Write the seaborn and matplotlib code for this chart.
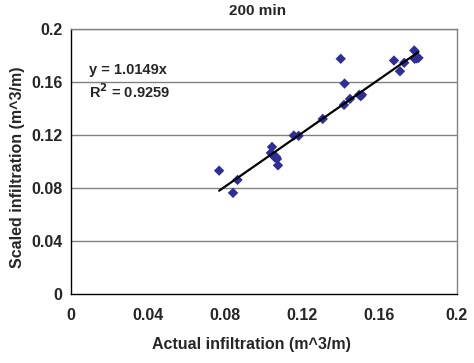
import matplotlib
matplotlib.use("Agg")
import matplotlib.pyplot as plt
import seaborn as sns
import numpy as np
import pandas as pd

# Data
actual = [0.0769, 0.0841, 0.0864, 0.1043, 0.1037, 0.1057, 0.1069, 0.1064, 0.1074,
          0.1156, 0.1181, 0.1306, 0.1399, 0.1419, 0.1416, 0.1447, 0.1495, 0.1509,
          0.1503, 0.1675, 0.1706, 0.1728, 0.1780, 0.1782, 0.1802, 0.1792]
scaled = [0.0932, 0.0764, 0.0862, 0.1111, 0.1066, 0.1033, 0.1021, 0.1036, 0.0972,
          0.1197, 0.1195, 0.1323, 0.1777, 0.1590, 0.1429, 0.1474, 0.1505, 0.1505,
          0.1495, 0.1764, 0.1683, 0.1747, 0.1840, 0.1777, 0.1784, 0.1780]
slope = 1.0149
r2 = 0.9259
ticks = [0, 0.04, 0.08, 0.12, 0.16, 0.2]
tick_labels = ["0", "0.04", "0.08", "0.12", "0.16", "0.2"]
title = "200 min"
xlabel = "Actual infiltration (m^3/m)"
ylabel = "Scaled infiltration (m^3/m)"

sns.set_theme(style="white")
plt.rcParams["font.family"] = ["Liberation Sans", "DejaVu Sans"]

df = pd.DataFrame({"actual": actual, "scaled": scaled})
xs = np.array([min(actual), max(actual)])
trend = pd.DataFrame({"x": xs, "y": slope * xs})

fig = plt.figure(figsize=(4.74, 3.63), dpi=100)
ax = fig.add_axes([0.1492, 0.1901, 0.9635 - 0.1492, 0.9193 - 0.1901])

for t in ticks[1:]:
    ax.axhline(t, color="#808080", lw=1.0, zorder=0)

sns.scatterplot(data=df, x="actual", y="scaled", marker="D", s=28,
                color="#2E2E94", edgecolor="none", ax=ax, zorder=3)
sns.lineplot(data=trend, x="x", y="y", color="black", lw=1.6, ax=ax, zorder=4)

ax.set_xlim(0, 0.2)
ax.set_ylim(0, 0.2)
ax.set_xticks(ticks)
ax.set_xticklabels(tick_labels, fontsize=11.5, fontweight="bold")
ax.set_yticks(ticks)
ax.set_yticklabels(tick_labels, fontsize=11.5, fontweight="bold")
ax.tick_params(axis="x", direction="inout", length=6, width=1, color="black", pad=7)
ax.tick_params(axis="y", direction="out", length=4, width=1, color="black", pad=2)

for side in ["left", "bottom"]:
    ax.spines[side].set_color("black")
    ax.spines[side].set_linewidth(1.0)
for side in ["top", "right"]:
    ax.spines[side].set_color("#808080")
    ax.spines[side].set_linewidth(1.0)
    ax.spines[side].set_visible(True)

ax.set_xlabel(xlabel, fontsize=11.5, fontweight="bold", labelpad=10)
ax.set_ylabel(ylabel, fontsize=11.5, fontweight="bold", labelpad=4)
ax.set_title(title, fontsize=11, fontweight="bold", pad=10)
ax.xaxis.label.set_x(0.467)
ax.yaxis.label.set_y(0.48)
ax.title.set_x(0.485)

ax.text(0.0095, 0.1664, f"y = {slope:.4f}x", fontsize=10.5, fontweight="bold")
ax.text(0.0095, 0.1482, f"R$^\\mathbf{{2}}$ = {r2:.4f}", fontsize=10.5, fontweight="bold")

fig.savefig("out.png", dpi=100)
